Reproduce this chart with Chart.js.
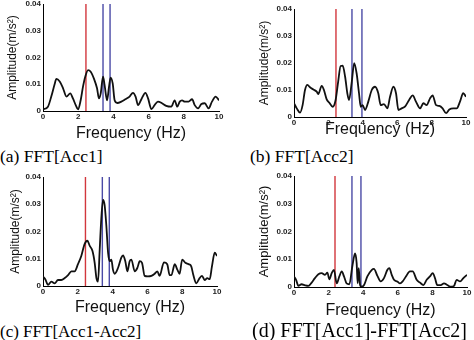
<!DOCTYPE html>
<html>
<head>
<meta charset="utf-8">
<script src="https://cdn.jsdelivr.net/npm/chart.js@4.4.1/dist/chart.umd.min.js"></script>
<style>
  body { margin: 0; background: #fff; width: 474px; height: 340px; position: relative; overflow: hidden; }
  canvas { position: absolute; }
  .cap { position: absolute; font-family: "Liberation Serif", "Times New Roman", serif; color: #000; line-height: 1; white-space: nowrap; }
</style>
</head>
<body>
<canvas id="pa" width="230" height="145" style="left:0;top:0"></canvas>
<canvas id="pb" width="237" height="145" style="left:237px;top:0"></canvas>
<canvas id="pc" width="230" height="150" style="left:0;top:170px"></canvas>
<canvas id="pd" width="237" height="150" style="left:237px;top:170px"></canvas>
<div class="cap" style="left:0;top:148px;font-size:17.5px">(a) FFT[Acc1]</div>
<div class="cap" style="left:250px;top:148px;font-size:17.5px">(b) FFT[Acc2]</div>
<div class="cap" style="left:0;top:323px;font-size:17px">(c) FFT[Acc1-Acc2]</div>
<div class="cap" style="left:252px;top:320px;font-size:20px">(d) FFT[Acc1]-FFT[Acc2]</div>
<script>
// tick labels
const xTicks = [0, 2, 4, 6, 8, 10];
const yTicks = [0, 0.01, 0.02, 0.03, 0.04];
const yLabels = ['0', '0.01', '0.02', '0.03', '0.04'];

// (a) FFT[Acc1]
const freqA = [0,0.28,0.47,0.66,0.76,0.95,1.14,1.33,1.55,1.70,1.86,1.99,2.14,2.27,2.40,2.56,2.71,2.90,3.07,3.18,3.28,3.41,3.50,3.64,3.75,3.84,3.96,4.07,4.22,4.45,4.68,4.92,5.11,5.26,5.40,5.59,5.82,5.97,6.16,6.34,6.53,6.76,7.00,7.29,7.48,7.63,7.77,7.90,8.05,8.27,8.47,8.62,8.81,9.00,9.19,9.41,9.60,9.81,10];
const ampA = [0.0006,0.0016,0.0054,0.010,0.012,0.011,0.0085,0.0054,0.0066,0.0047,0.0022,0.0006,0.004,0.009,0.0128,0.0153,0.0147,0.012,0.0085,0.0047,0.0066,0.0128,0.0097,0.004,0.009,0.0125,0.0103,0.004,0.003,0.0035,0.0044,0.0054,0.0068,0.0054,0.0022,0.0044,0.0068,0.0047,0.0007,0.0022,0.0035,0.0029,0.0019,0.0016,0.004,0.0016,0.0035,0.004,0.0035,0.0035,0.0044,0.0022,0.001,0.0026,0.0029,0.001,0.0035,0.0054,0.004];
const markA = [2.44, 3.41, 3.81];

// (b) FFT[Acc2]
const freqB = [0,0.16,0.35,0.5,0.64,0.78,0.93,1.12,1.32,1.41,1.61,1.74,1.9,2.05,2.25,2.42,2.58,2.71,2.83,2.97,3.10,3.2,3.35,3.5,3.64,3.78,3.88,3.99,4.13,4.32,4.52,4.71,4.9,5.04,5.23,5.43,5.58,5.78,5.93,6.07,6.26,6.45,6.71,6.9,7.09,7.33,7.52,7.71,7.91,8.06,8.26,8.45,8.64,8.84,9.03,9.26,9.46,9.65,9.84,10];
const ampB = [0.0051,0.0032,0.0016,0.0044,0.010,0.0119,0.011,0.0102,0.0094,0.0085,0.0115,0.010,0.0065,0.0053,0.0038,0.0063,0.0137,0.0189,0.019,0.015,0.0088,0.0063,0.0125,0.0199,0.0162,0.0088,0.0038,0.0044,0.0026,0.0057,0.010,0.0112,0.0088,0.0044,0.0048,0.0032,0.0074,0.0112,0.0088,0.0026,0.0032,0.0038,0.0065,0.008,0.0057,0.0032,0.0051,0.0044,0.0069,0.008,0.0044,0.0041,0.0032,0.0014,0.0028,0.0032,0.0032,0.0057,0.0088,0.0075];
const markB = [2.44, 3.37, 3.95];

// (c) FFT[Acc1-Acc2]
const freqC = [0,0.13,0.29,0.48,0.67,0.86,1.05,1.25,1.44,1.63,1.82,2.01,2.2,2.39,2.55,2.68,2.84,2.97,3.07,3.16,3.26,3.35,3.45,3.54,3.64,3.74,3.83,3.93,4.02,4.12,4.31,4.5,4.6,4.73,4.85,4.98,5.08,5.27,5.42,5.56,5.69,5.84,6.03,6.23,6.42,6.57,6.7,6.95,7.14,7.28,7.38,7.57,7.72,7.85,8.0,8.18,8.37,8.52,8.64,8.81,9.0,9.14,9.29,9.44,9.58,9.71,9.87,10];
const ampC = [0.0035,0.0025,0.0004,0.0016,0.001,0.0022,0.0022,0.0029,0.004,0.0054,0.0054,0.008,0.011,0.0154,0.0166,0.0148,0.0129,0.0085,0.0029,0.0016,0.0135,0.0247,0.0316,0.0298,0.0222,0.0122,0.0091,0.0097,0.006,0.0045,0.0066,0.0104,0.0112,0.0091,0.0054,0.0091,0.0097,0.0054,0.0066,0.0091,0.0085,0.0037,0.0035,0.0037,0.0045,0.0054,0.0037,0.0087,0.008,0.004,0.004,0.008,0.006,0.0045,0.0097,0.0085,0.008,0.0072,0.004,0.001,0.0029,0.0037,0.0022,0.0029,0.0025,0.0072,0.0122,0.011];
const markC = [2.44, 3.41, 3.81];

// (d) FFT[Acc1]-FFT[Acc2]
const freqD = [0,0.12,0.25,0.44,0.64,0.83,1.02,1.21,1.41,1.6,1.79,1.93,2.04,2.18,2.31,2.47,2.62,2.76,2.89,3.04,3.2,3.37,3.53,3.62,3.68,3.74,3.82,3.91,4.05,4.24,4.5,4.62,4.82,5.01,5.2,5.4,5.51,5.65,5.78,5.97,6.13,6.28,6.47,6.7,6.86,7.09,7.28,7.48,7.67,7.86,8.02,8.15,8.28,8.48,8.67,8.86,9.06,9.25,9.4,9.6,9.79,10];
const ampD = [0.0038,0.0026,0.0004,0.001,0.0006,0.0004,0.0016,0.0032,0.0046,0.005,0.0044,0.0052,0.0028,0.005,0.0062,0.0013,0.0038,0.0056,0.0038,0.0013,0.001,0.0074,0.0121,0.0087,0.0013,0.0068,0.0007,0.0001,0.0007,0.0038,0.0062,0.0065,0.004,0.002,0.0032,0.0062,0.0068,0.0044,0.0026,0.002,0.0013,0.002,0.0038,0.0056,0.0056,0.0026,0.0016,0.0007,0.0026,0.0038,0.005,0.0032,0.0007,0.0007,0.0013,0.0007,0.0001,0.0004,0.0026,0.002,0.0032,0.0044];
const markD = [2.37, 3.35, 3.87];

const sans = '"Liberation Sans", Arial, sans-serif';
const tickFont = { family: sans, size: 8, weight: 'bold' };

function panel(id, freq, amp, marks, L) {
  const sets = [{
    data: freq.map((f, i) => ({ x: f, y: amp[i] })),
    borderColor: '#111', borderWidth: 1.8, pointRadius: 0,
    cubicInterpolationMode: 'monotone'
  }];
  marks.forEach((m, i) => sets.push({
    data: [{ x: m, y: 0 }, { x: m, y: 0.04 }],
    borderColor: i === 0 ? '#d2363c' : '#4a4aa6', borderWidth: 1.4, pointRadius: 0
  }));

  new Chart(document.getElementById(id), {
    type: 'line',
    data: { datasets: sets },
    options: {
      responsive: false, animation: false, devicePixelRatio: 1,
      layout: { padding: { left: 0, top: L.top, right: L.right, bottom: 0 } },
      plugins: { legend: { display: false }, tooltip: { enabled: false } },
      scales: {
        x: {
          type: 'linear', min: 0, max: 10,
          afterBuildTicks: s => { s.ticks = xTicks.map(v => ({ value: v })); },
          ticks: { font: tickFont, color: '#222', padding: 1, maxRotation: 0, autoSkip: false },
          grid: { display: false, drawTicks: false },
          border: { display: true, color: '#000', width: 1 },
          title: { display: true, text: 'Frequency (Hz)', color: '#111',
                   font: { family: sans, size: L.xs, lineHeight: 1 }, padding: { top: 0, bottom: L.xp } },
          afterFit: s => { s.height = L.xh; s.paddingLeft = 0; s.paddingRight = 0; }
        },
        y: {
          min: 0, max: 0.04,
          afterBuildTicks: s => { s.ticks = yTicks.map(v => ({ value: v })); },
          ticks: { font: tickFont, color: '#222', padding: 2, callback: (v, i) => yLabels[i] },
          grid: { display: false, drawTicks: false },
          border: { display: true, color: '#000', width: 1 },
          title: { display: true, text: 'Amplitude(m/s²)', color: '#111',
                   font: { family: sans, size: L.ys, lineHeight: 1 }, padding: { top: L.yp, bottom: 0 } },
          afterFit: s => { s.width = L.yw; s.paddingTop = 0; s.paddingBottom = 0; }
        }
      }
    }
  });
}

panel('pa', freqA, ampA, markA, { top: 4, right: 11, xh: 34, xs: 16, xp: 3, yw: 43, ys: 12, yp: 7 });
panel('pb', freqB, ampB, markB, { top: 9, right: 8, xh: 28, xs: 16, xp: 7, yw: 57, ys: 12, yp: 22 });
panel('pc', freqC, ampC, markC, { top: 7, right: 13, xh: 34, xs: 16, xp: 4, yw: 43, ys: 12, yp: 10 });
panel('pd', freqD, ampD, markD, { top: 6, right: 7, xh: 33, xs: 16, xp: 1, yw: 57, ys: 13, yp: 21 });
</script>
</body>
</html>
